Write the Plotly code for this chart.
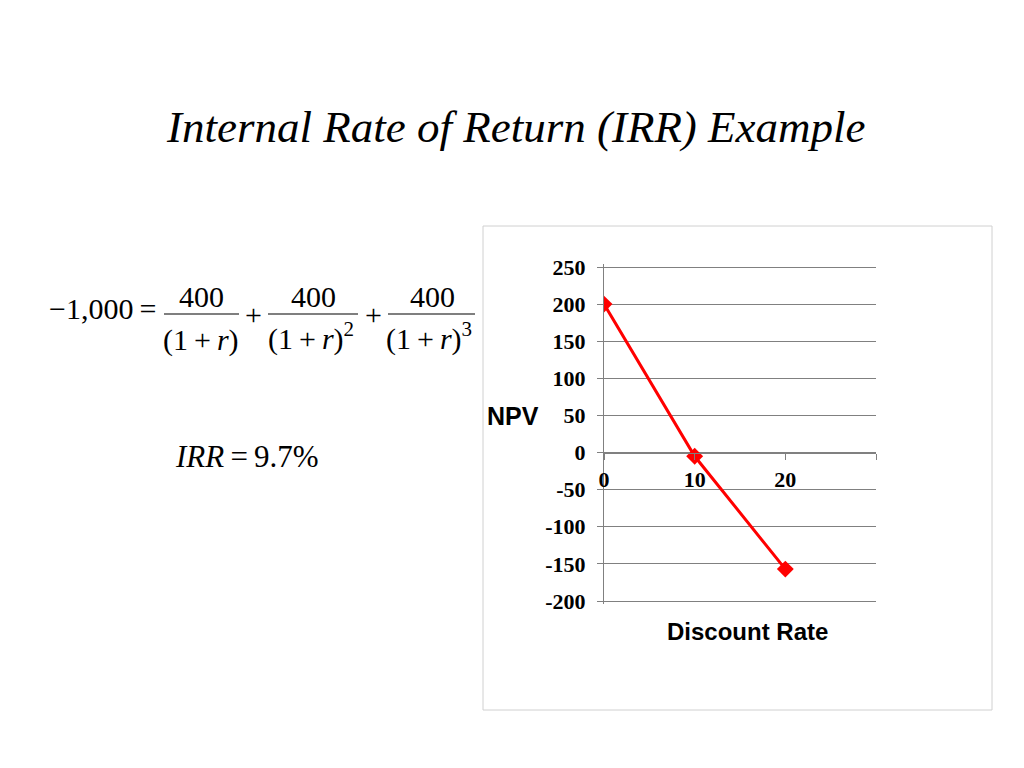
import plotly.graph_objects as go

# ---- data ----
discount_rate = [0, 10, 20]
npv = [200, -5, -157]
y_tick_vals = [-200, -150, -100, -50, 0, 50, 100, 150, 200, 250]
y_tick_text = ["-200", "-150", "-100", "-50", "0", "50", "100", "150", "200", "250"]
x_tick_vals = [0, 10, 20]
x_tick_text = ["0", "10", "20"]
x_end_tick = [30]

W, H = 1024, 768
def px(x): return x / W
def py(y): return 1 - y / H

# plot area in pixels
X0, X1 = 604, 876
ymin, ymax = -204, 254
PX_PER_UNIT = 334 / 450
ZERO_PX = 601 - 200 * PX_PER_UNIT
Y_BOT = ZERO_PX - ymin * PX_PER_UNIT
Y_TOP = ZERO_PX - ymax * PX_PER_UNIT
ydom = [py(Y_BOT), py(Y_TOP)]
zero_pos = py(ZERO_PX)

GRID = "#808080"
serif = "Liberation Serif, Times New Roman, serif"
sans = "Liberation Sans, Arial, sans-serif"

fig = go.Figure()
fig.add_trace(go.Scatter(
    x=discount_rate, y=npv, mode="lines+markers",
    line=dict(color="#ff0000", width=3),
    marker=dict(symbol="diamond", size=13, color="#ff0000"),
    showlegend=False, hoverinfo="x+y",
))

fig.update_layout(
    width=W, height=H, margin=dict(l=0, r=0, t=0, b=0, pad=0, autoexpand=False),
    paper_bgcolor="white", plot_bgcolor="rgba(0,0,0,0)",
    xaxis=dict(
        domain=[px(X0), px(X1)], range=[0, 30], anchor="free", position=zero_pos,
        automargin=False,
        tickmode="array", tickvals=x_tick_vals, ticktext=x_tick_text,
        minor=dict(tickmode="array", tickvals=x_end_tick, ticks="outside", ticklen=6,
                   tickcolor=GRID, tickwidth=1, showgrid=False),
        showgrid=False, zeroline=False, showline=True, linecolor=GRID, linewidth=1,
        ticks="outside", ticklen=6, tickcolor=GRID, tickwidth=1,
        ticklabelstandoff=1,
        tickfont=dict(family=serif, size=22, color="black", weight="bold"),
    ),
    yaxis=dict(
        domain=ydom, range=[ymin, ymax], anchor="x", automargin=False,
        tickmode="array", tickvals=y_tick_vals, ticktext=y_tick_text,
        showgrid=True, gridcolor=GRID, gridwidth=1, zeroline=False,
        showline=True, linecolor=GRID, linewidth=1,
        ticks="outside", ticklen=6, tickcolor=GRID, tickwidth=1,
        ticklabelstandoff=7,
        tickfont=dict(family=serif, size=22, color="black", weight="bold"),
    ),
)

shapes = [
    dict(type="rect", xref="paper", yref="paper", x0=px(483), x1=px(992), y0=py(226), y1=py(710),
         line=dict(color="#d0d0d0", width=1), fillcolor="rgba(0,0,0,0)", layer="below"),
]
# fraction bars
for a, b in [(164, 239), (268, 358), (388, 475)]:
    shapes.append(dict(type="line", xref="paper", yref="paper", x0=px(a), x1=px(b), y0=py(314), y1=py(314),
                       line=dict(color="black", width=1.2)))
fig.update_layout(shapes=shapes)

ann = []
def text(t, x, y, size, family=serif, xanchor="center", weight="normal"):
    ann.append(dict(text=t, x=px(x), y=py(y), xref="paper", yref="paper", showarrow=False,
                    xanchor=xanchor, yanchor="middle",
                    font=dict(family=family, size=size, color="black", weight=weight)))

text("<i>Internal Rate of Return (IRR) Example</i>", 516, 127, 45)
text("\u22121,000\u2009=", 158, 308, 30, xanchor="right")
text("400", 201, 296, 30)
text("400", 313, 296, 30)
text("400", 432, 296, 30)
text("+", 253, 314, 30)
text("+", 373, 314, 30)
text("(1\u2009+\u2009<i>r</i>)", 201, 340, 30)
text("(1\u2009+\u2009<i>r</i>)<sup>2</sup>", 311, 337, 30)
text("(1\u2009+\u2009<i>r</i>)<sup>3</sup>", 429, 337, 30)
text("<i>IRR</i>\u2009=\u20099.7%", 247, 456, 31)
text("NPV", 513, 416, 25, family=sans, weight="bold")
text("Discount Rate", 747, 631, 24, family=sans, weight="bold")
fig.update_layout(annotations=ann)

fig.write_html("out.html")
